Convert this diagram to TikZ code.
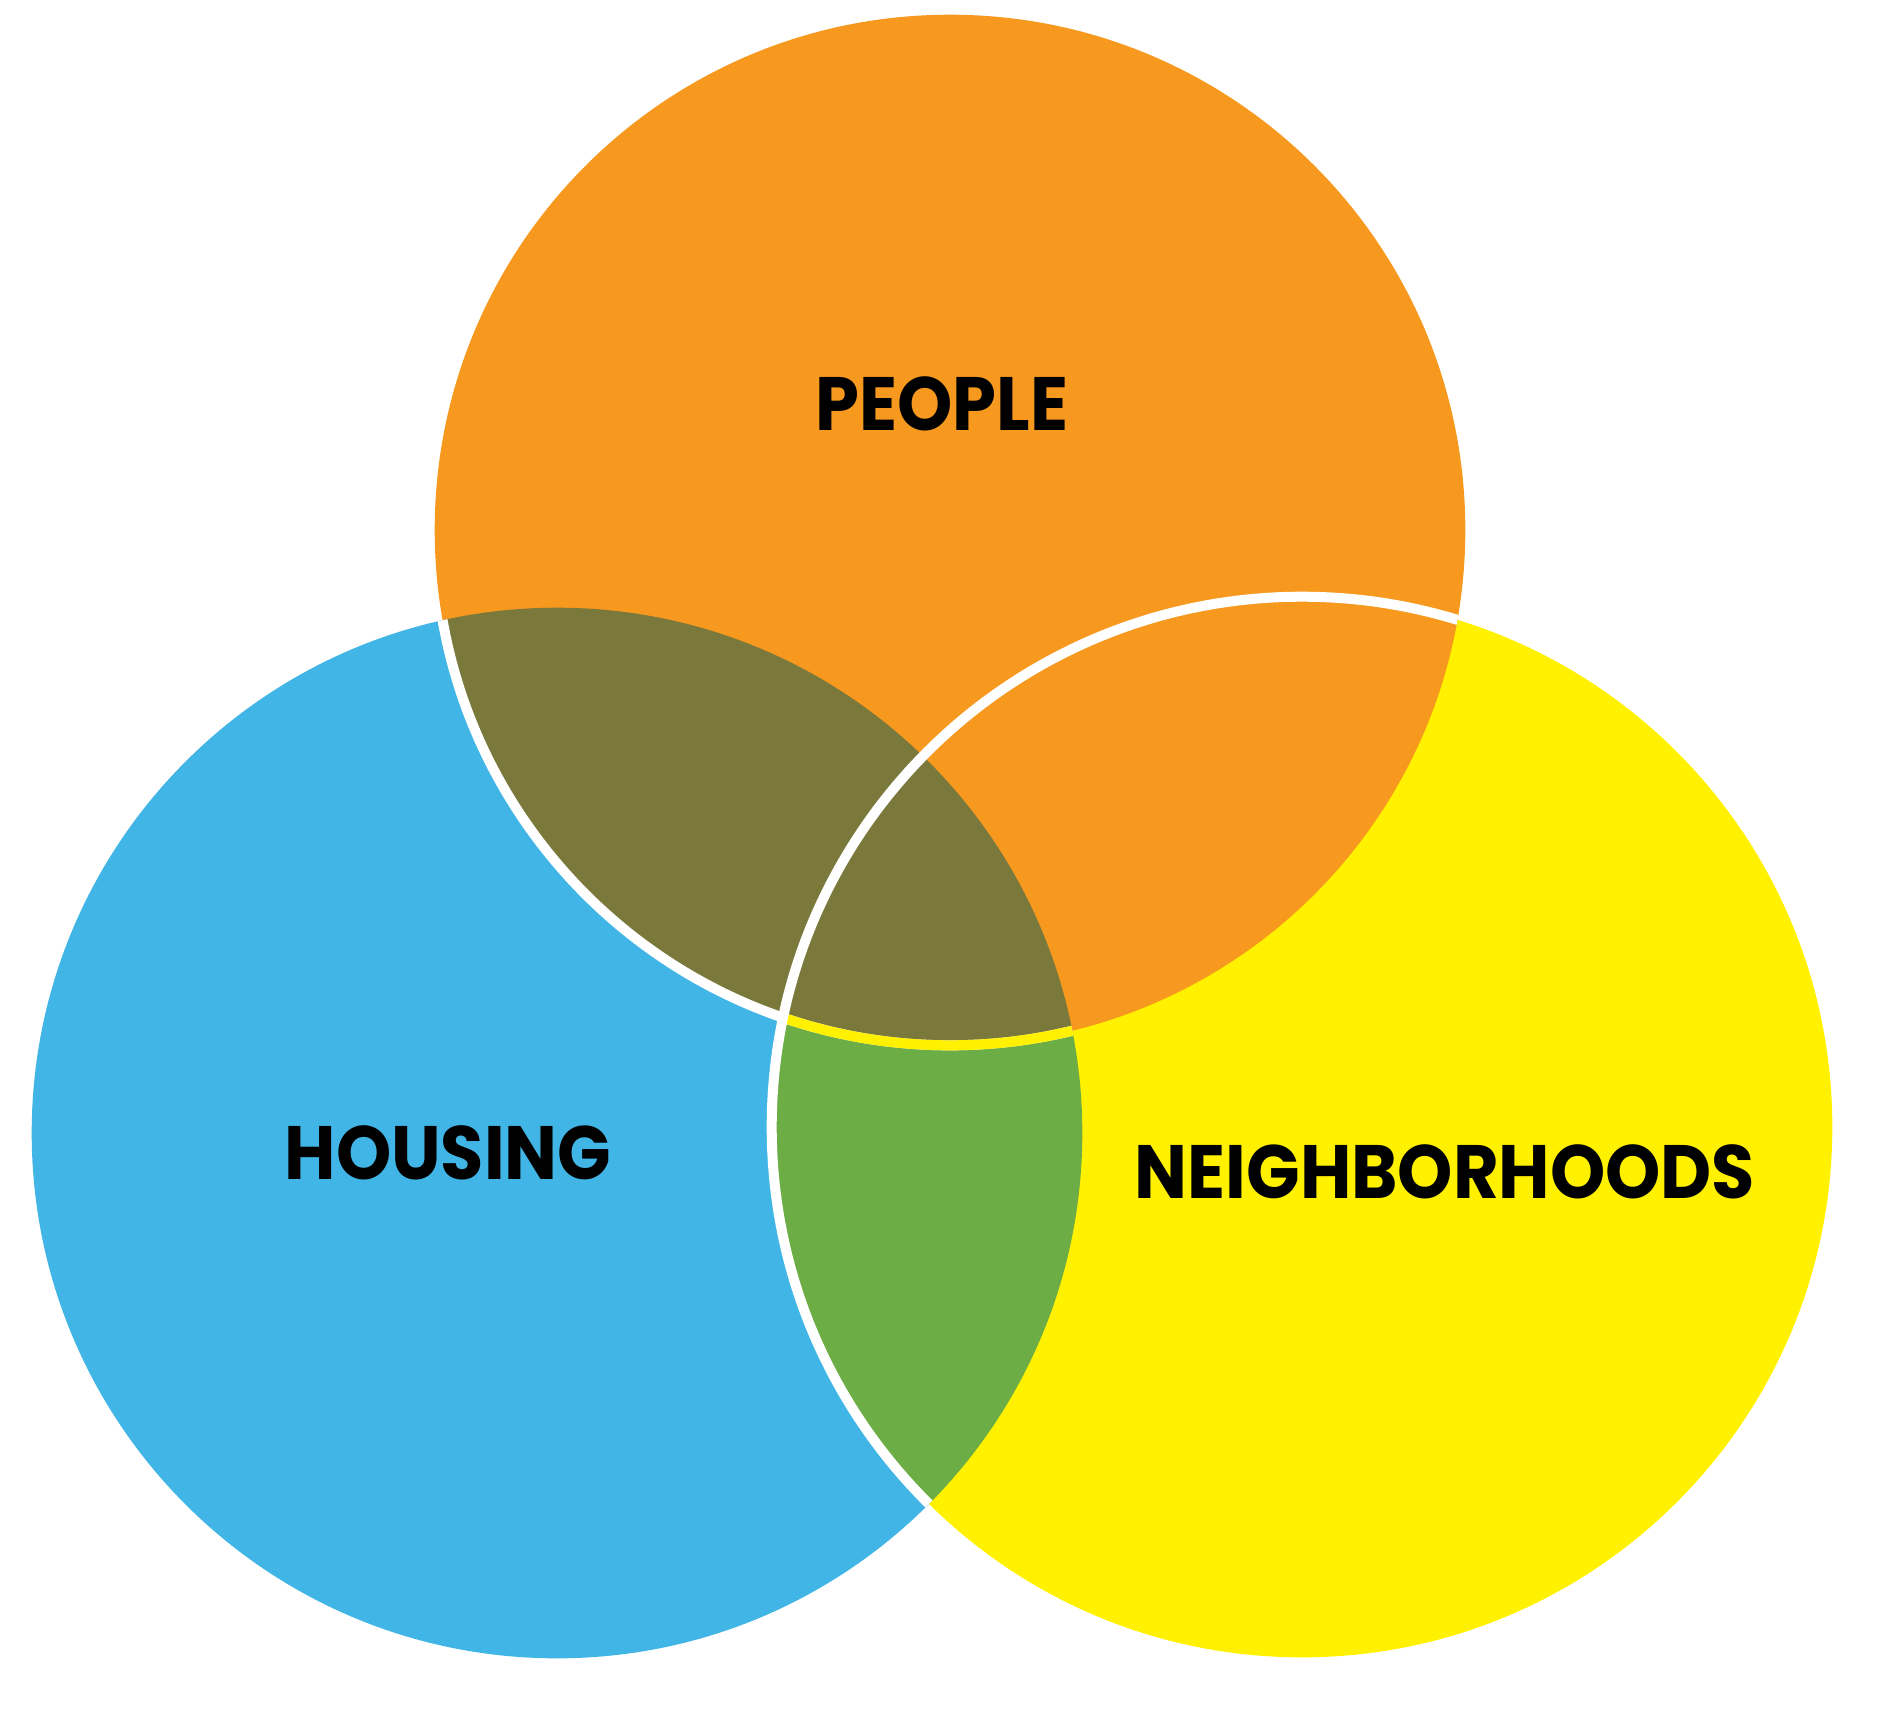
\documentclass[tikz,border=0pt]{standalone}
\usepackage{fontspec}
\setmainfont{Poppins}[FakeStretch=0.93]
\definecolor{peopleorange}{RGB}{247,152,31}
\definecolor{housingblue}{RGB}{65,182,230}
\definecolor{hoodsyellow}{RGB}{255,241,0}
\definecolor{mixgreen}{RGB}{108,173,69}
\definecolor{mixbrown}{RGB}{123,120,60}

\begin{document}
\begin{tikzpicture}[x=0.01cm, y=-0.01cm,
        venntext/.style = {font=\bfseries\fontsize{21.5}{26}\selectfont, anchor=base, inner sep=0pt},
        rim/.style = {draw=white, line width=0.1cm}]
    \useasboundingbox (0,0) rectangle (1886,1709);
    \coordinate (people) at (950,530);
    \coordinate (housing) at (557,1133);
    \coordinate (hoods) at (1302,1127);
    % discs
    \fill[housingblue] (housing) circle (5.25cm);
    \fill[hoodsyellow] (hoods) circle (5.3cm);
    \begin{scope}
        \clip (housing) circle (5.25cm);
        \fill[mixgreen] (hoods) circle (5.3cm);
    \end{scope}
    \fill[peopleorange] (people) circle (5.15cm);
    \begin{scope}
        \clip (people) circle (5.15cm);
        \fill[mixbrown] (housing) circle (5.25cm);
    \end{scope}
    % rims
    \begin{scope}
        \clip (housing) circle (5.25cm);
        \draw[rim] (people) circle (5.15cm);
        \clip (hoods) circle (5.3cm);
        \draw[rim, draw=hoodsyellow] (people) circle (5.15cm);
    \end{scope}
    \begin{scope}
        \clip (housing) circle (5.25cm) (people) circle (5.15cm);
        \draw[rim] (hoods) circle (5.3cm);
    \end{scope}
    % labels
    \node[venntext] (peoplelabel) at (942,430) {PEOPLE};
    \node[venntext] (housinglabel) at (448,1179) {HOUSING};
    \node[venntext] (hoodslabel) at (1445,1198) {NEIGHBORHOODS};
\end{tikzpicture}
\end{document}
